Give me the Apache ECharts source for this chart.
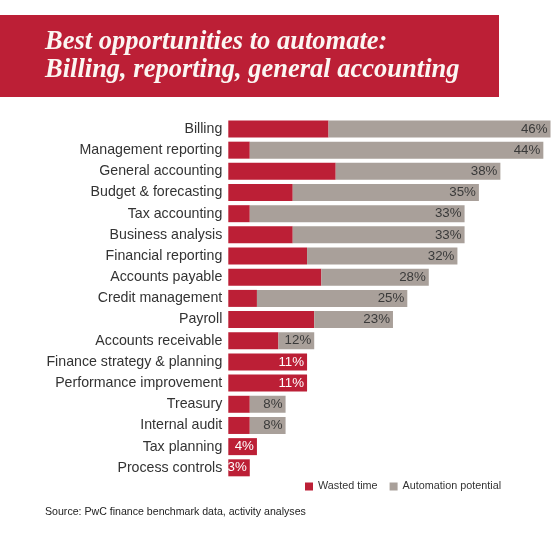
<!DOCTYPE html>
<html>
<head>
<meta charset="utf-8">
<script src="https://cdn.jsdelivr.net/npm/echarts@6/dist/echarts.min.js"></script>
<style>html,body{margin:0;padding:0;background:#fff;}#c{width:555px;height:534px;}</style>
</head>
<body>
<div id="c"></div>
<script>
var categories = ["Billing","Management reporting","General accounting","Budget & forecasting","Tax accounting","Business analysis","Financial reporting","Accounts payable","Credit management","Payroll","Accounts receivable","Finance strategy & planning","Performance improvement","Treasury","Internal audit","Tax planning","Process controls"];
var totals = [46,44,38,35,33,33,32,28,25,23,12,11,11,8,8,4,3];
var wasted = [14,3,15,9,3,9,11,13,4,12,7,11,11,3,3,4,3];
var automation = totals.map(function(t,i){return t - wasted[i];});

var RED = '#BC1F36', GRAY = '#A9A09A';
var chart = echarts.init(document.getElementById('c'));
chart.setOption({
  animation: false,
  title: [{
    text: 'Best opportunities to automate:\nBilling, reporting, general accounting',
    left: 45, top: 28, padding: 0,
    textStyle: {fontFamily: 'Liberation Serif', fontStyle: 'italic', fontWeight: 'bold', fontSize: 26.5, lineHeight: 28, color: '#FBF6F2'}
  },{
    text: 'Source: PwC finance benchmark data, activity analyses',
    left: 45, top: 507, padding: 0,
    textStyle: {fontFamily: 'Liberation Sans', fontWeight: 'normal', fontSize: 10.6, color: '#222'}
  }],
  graphic: [{type:'rect', z: -1, shape:{x:0,y:15,width:499,height:82}, style:{fill: RED}}],
  legend: {
    left: 300, top: 476, itemWidth: 8, itemHeight: 8, itemGap: 12,
    icon: 'rect',
    textStyle: {fontFamily: 'Liberation Sans', fontSize: 10.8, color: '#333'},
    data: ['Wasted time','Automation potential']
  },
  grid: {left: 228.3, right: 4.5, top: 118.4, height: 360},
  xAxis: {type:'value', min: 0, max: 45, show: false},
  yAxis: {
    type: 'category', data: categories, inverse: true,
    axisLine:{show:false}, axisTick:{show:false},
    axisLabel: {margin: 6, fontFamily: 'Liberation Sans', fontSize: 14.2, color: '#333'}
  },
  series: [{
    name: 'Wasted time', type: 'bar', stack: 's', data: wasted, barWidth: 17,
    itemStyle: {color: RED},
    label: {show: true, position: 'insideRight', distance: 3, color: '#fff', fontFamily: 'Liberation Sans', fontSize: 13.3,
      formatter: function(p){ return automation[p.dataIndex] === 0 ? totals[p.dataIndex] + '%' : ''; }}
  },{
    name: 'Automation potential', type: 'bar', stack: 's', data: automation, barWidth: 17,
    itemStyle: {color: GRAY},
    label: {show: true, position: 'insideRight', distance: 3, color: '#3a3a3a', fontFamily: 'Liberation Sans', fontSize: 13.3,
      formatter: function(p){ return automation[p.dataIndex] === 0 ? '' : totals[p.dataIndex] + '%'; }}
  }]
});
</script>
</body>
</html>
